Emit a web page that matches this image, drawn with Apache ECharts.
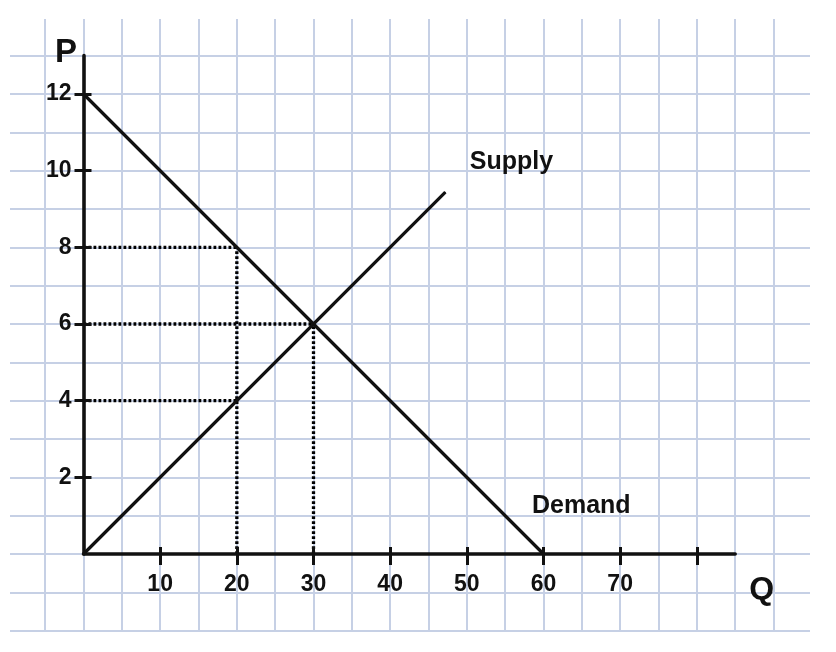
<!DOCTYPE html>
<html>
<head>
<meta charset="utf-8">
<script src="https://cdn.jsdelivr.net/npm/echarts@6/dist/echarts.min.js"></script>
<style>
  html, body { margin: 0; padding: 0; background: #fff; }
  #chart { width: 836px; height: 652px; }
</style>
</head>
<body>
<div id="chart"></div>
<script>
// demand / supply end points (Q, P)
const demandQ = [0, 60];
const demandP = [12, 0];
const supplyQ = [0, 47.2];
const supplyP = [0, 9.44];
// dotted guide lines [Q, P]
const hGuides = [[20, 8], [30, 6], [20, 4]];
const vGuides = [[20, 8], [30, 6]];
// ticks and labels
const xTicks = [10, 20, 30, 40, 50, 60, 70, 80];
const xLabels = [10, 20, 30, 40, 50, 60, 70];
const yTicks = [2, 4, 6, 8, 10, 12];
const yLabels = [2, 4, 6, 8, 10, 12];

const FONT = "'Liberation Sans', Arial, sans-serif";
const INK = '#111';
const PAPER = '#c6d0e5';

// pixel scale of the graph paper: 1 cell = 38.33px = 5 Q = 1 P
const PX_Q = 38.333 / 5;
const PX_P = 38.333;
const X0 = 83.5, Y0 = 554;

const myChart = echarts.init(document.getElementById('chart'), null, { renderer: 'canvas' });

const lineItems = (qs, ps, name, labelPos) =>
  qs.map((q, i) => {
    const item = { value: [q, ps[i]] };
    if (i === qs.length - 1) {
      item.label = {
        show: true,
        formatter: name,
        position: labelPos,
        align: 'left',
        verticalAlign: 'middle',
        color: INK,
        fontFamily: FONT,
        fontWeight: 'bold',
        fontSize: 25
      };
    }
    return item;
  });

const guideSeries = [];
hGuides.forEach(([q, p]) => {
  guideSeries.push([[0, p], [q, p]]);
});
vGuides.forEach(([q, p]) => {
  guideSeries.push([[q, 0], [q, p]]);
});

const option = {
  backgroundColor: '#fff',
  animation: false,
  grid: [
    // data
    { left: X0, top: Y0 - 13 * PX_P, width: 85 * PX_Q, height: 13 * PX_P },
    // paper: vertical lines
    { left: X0 - 5 * PX_Q, top: 19, width: 95 * PX_Q, height: 612 },
    // paper: horizontal lines
    { left: 10, top: Y0 - 13 * PX_P, width: 800, height: 15 * PX_P }
  ],
  xAxis: [
    {
      gridIndex: 0, type: 'value', min: 0, max: 85, z: 5,
      axisLine: { lineStyle: { color: INK, width: 3.6 } },
      axisTick: { customValues: xTicks, length: 11, lineStyle: { color: INK, width: 3 } },
      axisLabel: {
        customValues: xLabels, margin: 19, color: INK,
        fontFamily: FONT, fontWeight: 'bold', fontSize: 23
      },
      splitLine: { show: false }
    },
    {
      gridIndex: 0, type: 'value', min: 0, max: 85, position: 'bottom', z: 5,
      axisLine: { show: false },
      axisTick: { customValues: xTicks, inside: true, length: 7, lineStyle: { color: INK, width: 3 } },
      axisLabel: { show: false },
      splitLine: { show: false }
    },
    {
      gridIndex: 1, type: 'value', min: -5, max: 90, interval: 5, z: 0,
      axisLine: { show: false }, axisTick: { show: false }, axisLabel: { show: false },
      splitLine: { show: true, showMinLine: true, showMaxLine: true, lineStyle: { color: PAPER, width: 2 } }
    },
    { gridIndex: 2, type: 'value', show: false },
    // axis name only, shifted below the axis line
    {
      gridIndex: 0, type: 'value', min: 0, max: 85, position: 'bottom', offset: 36, z: 5,
      axisLine: { show: false, onZero: false }, axisTick: { show: false }, axisLabel: { show: false },
      splitLine: { show: false },
      name: 'Q', nameLocation: 'end', nameGap: 14,
      nameTextStyle: {
        color: INK, fontFamily: FONT, fontWeight: 'bold', fontSize: 32,
        align: 'left', verticalAlign: 'middle'
      }
    }
  ],
  yAxis: [
    {
      gridIndex: 0, type: 'value', min: 0, max: 13, z: 5,
      axisLine: { lineStyle: { color: INK, width: 3.6 } },
      axisTick: { customValues: yTicks, length: 9, lineStyle: { color: INK, width: 3 } },
      axisLabel: {
        customValues: yLabels, margin: 12, color: INK,
        fontFamily: FONT, fontWeight: 'bold', fontSize: 23
      },
      splitLine: { show: false },
      name: 'P', nameLocation: 'end', nameGap: 3,
      nameTextStyle: {
        color: INK, fontFamily: FONT, fontWeight: 'bold', fontSize: 33,
        align: 'center', verticalAlign: 'middle', padding: [0, 35, 0, 0]
      }
    },
    {
      gridIndex: 0, type: 'value', min: 0, max: 13, position: 'left', z: 5,
      axisLine: { show: false },
      axisTick: { customValues: yTicks, inside: true, length: 8, lineStyle: { color: INK, width: 3 } },
      axisLabel: { show: false },
      splitLine: { show: false }
    },
    { gridIndex: 1, type: 'value', show: false },
    {
      gridIndex: 2, type: 'value', min: -2, max: 13, interval: 1, z: 0,
      axisLine: { show: false }, axisTick: { show: false }, axisLabel: { show: false },
      splitLine: { show: true, showMinLine: true, showMaxLine: true, lineStyle: { color: PAPER, width: 2 } }
    }
  ],
  series: [
    {
      name: 'Demand', type: 'line', xAxisIndex: 0, yAxisIndex: 0, clip: false, z: 4,
      symbol: 'circle', symbolSize: 1, itemStyle: { color: INK },
      lineStyle: { color: INK, width: 3.2 },
      data: lineItems(demandQ, demandP, 'Demand', [-11, -47])
    },
    {
      name: 'Supply', type: 'line', xAxisIndex: 0, yAxisIndex: 0, clip: false, z: 4,
      symbol: 'circle', symbolSize: 1, itemStyle: { color: INK },
      lineStyle: { color: INK, width: 3.2 },
      data: lineItems(supplyQ, supplyP, 'Supply', [25, -30])
    },
    ...guideSeries.map((d) => ({
      type: 'line', xAxisIndex: 0, yAxisIndex: 0, clip: false, z: 3,
      symbol: 'none', silent: true,
      lineStyle: { color: '#000', width: 3.3, type: [2.8, 2.2] },
      data: d
    }))
  ]
};

option && myChart.setOption(option);
window.addEventListener('resize', myChart.resize);
</script>
</body>
</html>
